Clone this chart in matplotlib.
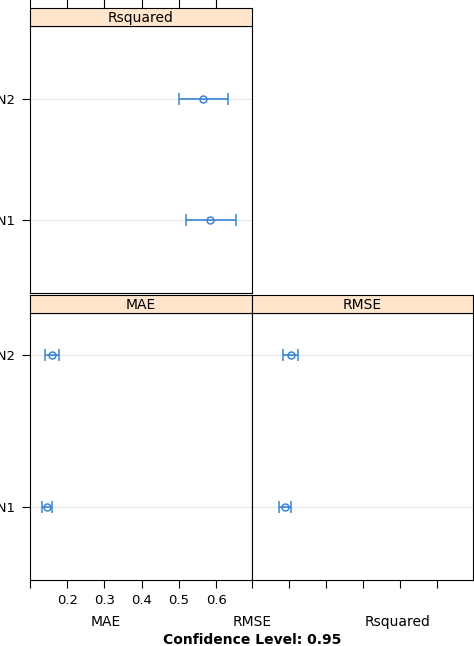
import matplotlib
matplotlib.use("Agg")
import matplotlib.pyplot as plt

W, H = 474, 646
models = ["NN1", "NN2"]
metrics = ["MAE", "RMSE", "Rsquared"]
est = {"MAE": [0.146, 0.160], "RMSE": [0.189, 0.205], "Rsquared": [0.584, 0.565]}
lo = {"MAE": [0.133, 0.141], "RMSE": [0.172, 0.183], "Rsquared": [0.519, 0.500]}
hi = {"MAE": [0.160, 0.179], "RMSE": [0.205, 0.223], "Rsquared": [0.654, 0.632]}
ticks = [0.1, 0.2, 0.3, 0.4, 0.5, 0.6]
ticklabels = ["", "0.2", "0.3", "0.4", "0.5", "0.6"]

fig = plt.figure(figsize=(W/100, H/100), dpi=100)
col = "#3a84d6"

def px(x0, y0, x1, y1):
    return [x0/W, 1-y1/H, (x1-x0)/W, (y1-y0)/H]

panels = {"Rsquared": (30, 26, 252, 293, (0.4, 2.6)),
          "MAE": (30, 313, 252, 580, (0.52, 2.28)),
          "RMSE": (252, 313, 473, 580, (0.52, 2.28))}
for m, (x0, y0, x1, y1, yl) in panels.items():
    ax = fig.add_axes(px(x0, y0, x1, y1))
    ax.set_xlim(0.1, 0.696)
    ax.set_ylim(*yl)
    for i, mod in enumerate(models):
        y = i + 1
        ax.axhline(y, color="#e6e6e6", lw=0.8, zorder=0)
        ax.errorbar([est[m][i]], [y], xerr=[[est[m][i]-lo[m][i]], [hi[m][i]-est[m][i]]],
                    fmt="o", mfc="none", mec=col, color=col, ms=5, capsize=4, lw=1.2, mew=1.1)
    ax.tick_params(direction="out", length=6, width=0.8, pad=4)
    ax.set_yticks([1, 2])
    if x0 == 30:
        ax.set_yticklabels(models, fontsize=9.5)
    else:
        ax.set_yticklabels([])
        ax.tick_params(axis="y", length=0)
    ax.set_xticks(ticks)
    if m == "Rsquared":
        ax.set_xticks([])
    elif m == "MAE":
        ax.set_xticklabels(ticklabels, fontsize=9.5)
    else:
        ax.set_xticklabels([])
    for s in ax.spines.values():
        s.set_linewidth(0.8)
    # strip
    sx = fig.add_axes(px(x0, y0-18, x1, y0))
    sx.set_facecolor("#ffe5cc")
    sx.set_xlim(0.1, 0.696)
    sx.set_yticks([])
    if m == "Rsquared":
        sx.xaxis.tick_top()
        sx.set_xticks(ticks)
        sx.set_xticklabels([])
        sx.tick_params(axis="x", direction="out", length=8, width=0.8)
    else:
        sx.set_xticks([])
    sx.text(0.5, 0.45, m, ha="center", va="center", fontsize=10, transform=sx.transAxes)
    for s in sx.spines.values():
        s.set_linewidth(0.8)

for x, t in [(106, "MAE"), (252, "RMSE"), (398, "Rsquared")]:
    fig.text(x/W, 1-622/H, t, ha="center", va="center", fontsize=10)
fig.text(252/W, 1-640/H, "Confidence Level: 0.95", ha="center", va="center", fontsize=10, weight="bold")
fig.savefig("out.png", dpi=100)
